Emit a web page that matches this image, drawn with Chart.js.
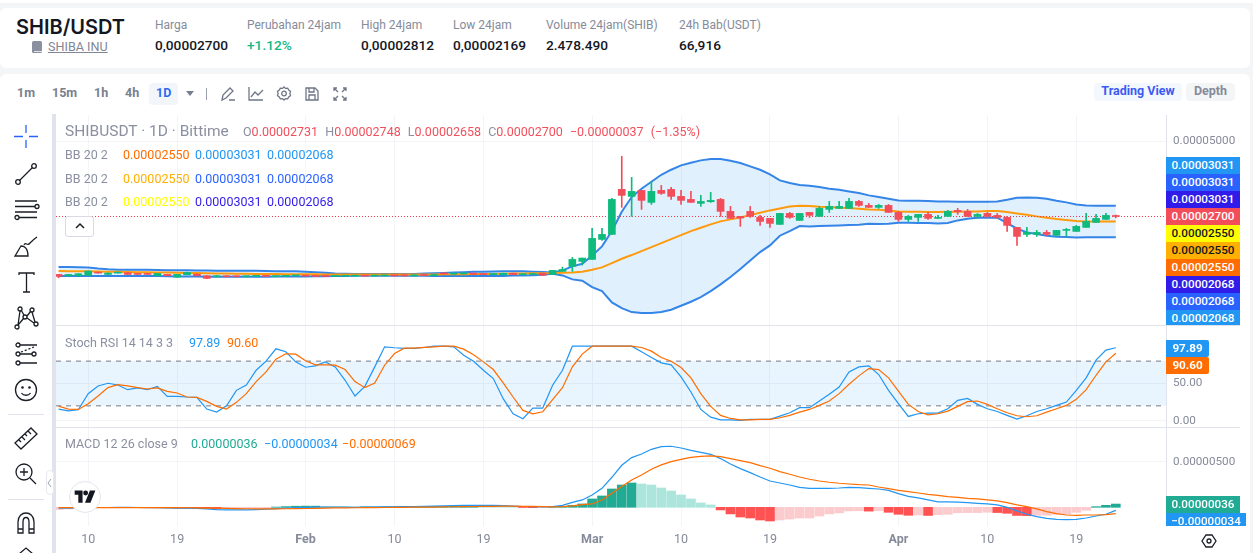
<!DOCTYPE html>
<html><head><meta charset="utf-8">
<script src="https://cdn.jsdelivr.net/npm/chart.js@4/dist/chart.umd.min.js"></script>
<style>
*{box-sizing:border-box}
html,body{margin:0;padding:0;width:1253px;height:553px;overflow:hidden;background:#f3f5f7;font-family:Roboto,sans-serif;color:#131722}
.abs{position:absolute;white-space:nowrap}
.panel{position:absolute;background:#fff}
canvas{position:absolute;left:56px}
.lab{font-size:12px;color:#868b9a;top:17px;line-height:16px}
.val{font-size:13.7px;color:#14171f;top:37px;line-height:16px;font-weight:500}
.tab{top:84px;line-height:17px;font-size:12.5px;font-weight:700;color:#787f8e}
.lg{font-size:12.5px;line-height:16px;color:#8a90a0}
.sep{position:absolute;background:#e0e3eb}
.tags{position:absolute;left:1166px;overflow:hidden}
.tags div{height:17px;line-height:17px;font-size:11.7px;text-align:center;color:#fff;font-weight:500}
svg{position:absolute;overflow:visible}
svg.t{fill:none;stroke:#1b1e26;stroke-width:1.3}
svg.g{fill:none;stroke:#6f7686;stroke-width:1.3}
</style></head><body>
<div class="panel" style="left:0;top:0;width:1253px;height:3px"></div>
<div class="panel" style="left:0;top:8px;width:1250px;height:60px;border-radius:6px"></div>
<div class="panel" style="left:0;top:74px;width:1250px;height:479px;border-radius:6px 6px 0 0"></div>

<div class="abs" style="left:16px;top:15px;font-family:Inter;font-size:20px;line-height:24px;font-weight:600;color:#14171f">SHIB/USDT</div>
<svg style="left:32px;top:41px" width="11" height="13"><rect x="0" y="0" width="10" height="12" rx="1.5" fill="#8a90a0"/><rect x="2" y="10" width="8" height="1" fill="#dfe2e8"/></svg>
<div class="abs" style="left:48px;top:39px;font-size:12.6px;line-height:16px;color:#7f8695;text-decoration:underline">SHIBA INU</div>
<div class="abs lab" style="left:155px">Harga</div><div class="abs val" style="left:155px">0,00002700</div>
<div class="abs lab" style="left:247px">Perubahan 24jam</div><div class="abs val" style="left:247px;color:#12b886">+1.12%</div>
<div class="abs lab" style="left:361px">High 24jam</div><div class="abs val" style="left:361px">0,00002812</div>
<div class="abs lab" style="left:453px">Low 24jam</div><div class="abs val" style="left:453px">0,00002169</div>
<div class="abs lab" style="left:546px">Volume 24jam(SHIB)</div><div class="abs val" style="left:546px">2.478.490</div>
<div class="abs lab" style="left:679px">24h Bab(USDT)</div><div class="abs val" style="left:679px">66,916</div>

<div class="abs tab" style="left:17px">1m</div><div class="abs tab" style="left:52px">15m</div>
<div class="abs tab" style="left:94px">1h</div><div class="abs tab" style="left:125px">4h</div>
<div class="abs" style="left:149px;top:83px;width:29px;height:22px;background:#f2f5fa;border-radius:4px"></div>
<div class="abs tab" style="left:156px;color:#2e6bf0">1D</div>
<svg style="left:185px;top:91px" width="10" height="6"><path d="M1 0H9L5 5Z" fill="#787f8e"/></svg>
<div class="sep" style="left:206px;top:88px;width:1px;height:12px;background:#9aa0ad"></div>
<svg class="g" style="left:220px;top:86px" width="16" height="16"><path d="M2 14 3 9 10 2 13 5 6 12ZM9 14h6"/></svg>
<svg class="g" style="left:248px;top:87px" width="16" height="14"><path d="M1 0V13H15M3 10 7 5 10 8 15 3"/></svg>
<svg class="g" style="left:277px;top:86px" width="15" height="15"><circle cx="7" cy="7.5" r="2.3"/><path d="M7 1l1.5 1.4 2.2-.3 1 2 1.8 1.2-.6 2.2.6 2.2-1.8 1.2-1 2-2.2-.3L7 14l-1.5-1.4-2.2.3-1-2L.5 9.7l.6-2.2-.6-2.2 1.8-1.2 1-2 2.2.3Z"/></svg>
<svg class="g" style="left:305px;top:87px" width="14" height="14"><path d="M1 1H10L13 4V13H1ZM4 1V5H9V1M4 13V8H10V13"/></svg>
<svg class="g" style="left:333px;top:87px" width="14" height="14"><path d="M1 4V1H4M10 1h3V4M13 10v3H10M4 13H1V10M1 1 5 5M13 1 9 5M13 13 9 9M1 13 5 9"/></svg>

<div class="abs" style="left:1094px;top:83px;width:88px;height:18px;background:#f3f7fe;border-radius:4px;text-align:center;font-size:12.5px;line-height:16px;font-weight:700;color:#3b5cf2">Trading View</div>
<div class="abs" style="left:1186px;top:83px;width:49px;height:18px;background:#f3f5f7;border-radius:4px;text-align:center;font-size:12.5px;line-height:16px;font-weight:700;color:#868b9a">Depth</div>

<canvas id="mainChart" width="1194" height="210" style="top:115px"></canvas>
<canvas id="rsiChart" width="1194" height="101" style="top:326px"></canvas>
<canvas id="macdChart" width="1194" height="125" style="top:428px"></canvas>

<div class="sep" style="left:52px;top:114px;width:4px;height:439px"></div>
<div class="sep" style="left:56px;top:325px;width:1184px;height:1px"></div>
<div class="sep" style="left:56px;top:427px;width:1184px;height:1px"></div>

<div class="abs" style="left:65px;top:122px;font-size:15.5px;line-height:18px;color:#8a90a0">SHIBUSDT · 1D · Bittime</div>
<div class="abs lg" style="left:243px;top:124px;word-spacing:4px">O<span style="color:#f0505c">0.00002731</span> H<span style="color:#f0505c">0.00002748</span> L<span style="color:#f0505c">0.00002658</span> C<span style="color:#f0505c">0.00002700 −0.00000037 (−1.35%)</span></div>
<div class="abs lg" style="left:65px;top:147px">BB 20 2</div><div class="abs lg" style="left:123px;top:147px;color:#ff6d00">0.00002550</div><div class="abs lg" style="left:195px;top:147px;color:#2196f3">0.00003031</div><div class="abs lg" style="left:267px;top:147px;color:#2196f3">0.00002068</div>
<div class="abs lg" style="left:65px;top:171px">BB 20 2</div><div class="abs lg" style="left:123px;top:171px;color:#ffb000">0.00002550</div><div class="abs lg" style="left:195px;top:171px;color:#2962ff">0.00003031</div><div class="abs lg" style="left:267px;top:171px;color:#2962ff">0.00002068</div>
<div class="abs lg" style="left:65px;top:194px">BB 20 2</div><div class="abs lg" style="left:123px;top:194px;color:#ffff00">0.00002550</div><div class="abs lg" style="left:195px;top:194px;color:#311be8">0.00003031</div><div class="abs lg" style="left:267px;top:194px;color:#311be8">0.00002068</div>
<div class="abs" style="left:65px;top:216px;width:29px;height:21px;background:#fff;border:1px solid #d8dbe3;border-radius:3px"></div>
<svg style="left:75px;top:223px;fill:none;stroke:#1b1e26;stroke-width:1.5" width="10" height="7"><path d="M1 5 5 1 9 5"/></svg>

<div class="abs lg" style="left:65px;top:335px">Stoch RSI 14 14 3 3</div>
<div class="abs lg" style="left:189px;top:335px;color:#2196f3">97.89</div><div class="abs lg" style="left:227px;top:335px;color:#ff6d00">90.60</div>
<div class="abs lg" style="left:65px;top:436px">MACD 12 26 close 9</div>
<div class="abs lg" style="left:191px;top:436px;color:#22ab94">0.00000036</div><div class="abs lg" style="left:264px;top:436px;color:#2196f3">−0.00000034</div><div class="abs lg" style="left:342px;top:436px;color:#ff6d00">−0.00000069</div>

<div class="tags" style="top:157px;width:74px;height:168px">
<div style="background:#2196f3">0.00003031</div><div style="background:#2962ff">0.00003031</div><div style="background:#311be8">0.00003031</div>
<div style="background:#f34d5a">0.00002700</div><div style="background:#ffff00;color:#131722">0.00002550</div><div style="background:#ffb000;color:#131722">0.00002550</div>
<div style="background:#ff6d00">0.00002550</div><div style="background:#311be8">0.00002068</div><div style="background:#2962ff">0.00002068</div><div style="background:#2196f3">0.00002068</div></div>
<div class="tags" style="top:340px;width:43px;height:34px">
<div style="background:#2196f3;border-radius:0 2px 2px 0;font-weight:700">97.89</div><div style="background:#ff6d00;border-radius:0 2px 2px 0;font-weight:700">90.60</div></div>
<div class="tags" style="top:496px;width:80px;height:30px">
<div style="background:#22ab94;width:74px">0.00000036</div><div style="background:#2196f3">−0.00000034</div></div>

<div class="abs" style="left:69px;top:481px;width:32px;height:32px;border-radius:50%;background:#fff;border:1px solid #e3e5ec"></div>
<svg style="left:74px;top:490px" width="22" height="14" viewBox="0 0 36 23"><path fill="#131722" d="M14 1H1V8H7V21H14ZM27 21H18L26 1H35ZM19 9a4 4 0 1 0 0-8 4 4 0 0 0 0 8Z"/></svg>

<svg style="left:14px;top:125px;fill:none;stroke:#2962ff;stroke-width:1.3" width="24" height="24"><path d="M12 0V8M12 15V23M0 11.5H9M15 11.5H24"/></svg>
<svg class="t" style="left:14px;top:162px" width="24" height="24"><path d="M5.5 18.5 18.5 5.5"/><circle cx="4" cy="20" r="2.3"/><circle cx="20" cy="4" r="2.3"/></svg>
<svg class="t" style="left:14px;top:199px" width="24" height="24"><path d="M1 2H23M1 7.5H21M1 13H23M5 18.5H23"/><circle cx="23" cy="7.5" r="2"/><circle cx="3" cy="18.5" r="2"/></svg>
<svg class="t" style="left:14px;top:235px" width="24" height="24"><path d="M1 21H14C14 13 10 11 7 11 5 14 3 18 1 21ZM10 10C12 6 13 12 16 8 18 6 20 4 23 2"/></svg>
<svg class="t" style="left:14px;top:270px" width="24" height="24"><path d="M5 5V3H20V5M12.500 3V22M9 22H16"/></svg>
<svg class="t" style="left:14px;top:306px" width="24" height="24"><circle cx="6" cy="3" r="2"/><circle cx="18" cy="4" r="2"/><circle cx="11" cy="11" r="2"/><circle cx="3" cy="21" r="2"/><circle cx="22" cy="18" r="2"/><path d="M6 5 4 19M7 4 10 9M17 5 13 10M18 6 21 16M13 12 20 17M10 12 4 19"/></svg>
<svg class="t" style="left:14px;top:342px" width="24" height="24"><circle cx="4" cy="3" r="2"/><circle cx="20" cy="12" r="2"/><circle cx="4" cy="12" r="2"/><circle cx="4" cy="21" r="2"/><path d="M6 3H23M6 12H18M6 21H23"/><path d="M7 10 20 5" stroke-dasharray="2 2"/></svg>
<svg class="t" style="left:14px;top:378px" width="24" height="24"><circle cx="12" cy="12" r="10.500"/><circle cx="8.500" cy="9.500" r=".7"/><circle cx="15.500" cy="9.500" r=".7"/><path d="M7.500 15C9.500 18 14.500 18 16.500 15"/></svg>
<div class="sep" style="left:8px;top:414px;width:36px;height:1px"></div>
<svg class="t" style="left:14px;top:426px" width="24" height="24"><path d="M1 17 17 2 23 8 7 23ZM5 14 7 16M8 11 11 14M11 8 13 10M14 5 17 8"/></svg>
<svg class="t" style="left:14px;top:462px" width="24" height="24"><circle cx="10" cy="10" r="8"/><path d="M6 10H14M10 6V14M16 16 22 22"/></svg>
<div class="abs" style="left:46px;top:470px;width:8px;height:25px;background:#fff;border:1px solid #e6e8ef;border-radius:4px"></div>
<svg style="left:48px;top:479px;fill:none;stroke:#9ca3af;stroke-width:1" width="4" height="8"><path d="M3 0 0 4 3 8"/></svg>
<div class="sep" style="left:8px;top:499px;width:36px;height:1px"></div>
<svg class="t" style="left:14px;top:511px" width="24" height="24"><path d="M4 22V11C4 -1 20 -1 20 11V22H15V11C15 5 9 5 9 11V22ZM4 18H9M15 18H20"/></svg>
<svg class="t" style="left:18px;top:547px" width="16" height="8"><path d="M1 7 8 1 15 7"/></svg>
<svg style="left:1201px;top:533px;fill:none;stroke:#1b1e26;stroke-width:1.3" width="16" height="16"><path d="M5 2H11L15 8 11 14H5L1 8Z"/><circle cx="8" cy="8" r="2"/></svg>

<script>
// Day index 0 = 7 Jan; all prices are in units of 1e-8 USDT.
const tickDays   = [3,12,25,34,43,54,63,72,85,94,103];
const tickLabels = ['10','19','Feb','10','19','Mar','10','19','Apr','10','19'];
const priceLast = 2700;

const opens  = [930,889,889,899,991,930,971,981,950,950,889,930,848,920,940,889,859,889,879,860,870,900,860,870,885,900,890,885,870,875,878,895,880,885,905,910,885,925,895,975,940,945,970,950,925,920,965,920,925,965,931,1022,1175,1328,1389,2000,2153,3529,3315,3498,3132,3498,3529,3315,3223,3101,3152,3223,2857,2704,2857,2673,2643,2459,2795,2581,2826,2704,2918,2948,2948,3162,3040,2979,3040,2826,2612,2673,2765,2643,2704,2887,2857,2704,2795,2734,2673,2367,2153,2153,2215,2123,2276,2245,2367,2520,2612,2731];
const closes = [869,930,950,1032,971,971,991,930,930,930,960,889,930,991,889,808,889,858,859,880,890,870,885,890,895,880,870,870,885,890,890,880,900,905,885,885,915,900,925,945,965,975,935,925,955,965,925,950,955,905,1053,1083,1389,1430,2031,2153,3223,3346,3468,3193,3468,3407,3315,3193,3132,3162,3193,2857,2643,2653,2704,2551,2490,2795,2673,2795,2734,2948,3009,3009,3162,3040,2979,3040,2826,2612,2704,2765,2643,2673,2857,2846,2704,2765,2704,2673,2429,2092,2215,2215,2153,2276,2296,2398,2551,2643,2734,2700];
const highs  = [930,935,955,1040,1000,975,1000,990,955,955,965,935,935,1000,945,895,895,895,885,885,895,905,890,895,900,905,895,890,890,895,895,900,905,910,910,915,920,930,930,980,970,980,975,955,960,970,970,955,960,970,1053,1155,1450,1430,2337,2337,3254,4538,3896,3498,3774,3651,3590,3498,3468,3346,3437,3254,3009,2704,3009,2734,2643,2795,2826,2795,2826,3009,3162,3162,3254,3193,3101,3070,3070,2857,2734,2765,2826,2734,2887,2948,2918,2795,2826,2795,2704,2367,2367,2276,2276,2276,2337,2429,2795,2765,2795,2748];
const lows   = [828,885,885,895,965,925,965,925,925,925,885,885,845,915,885,800,855,855,855,855,865,865,855,865,880,875,865,865,865,870,875,875,875,880,880,880,880,895,890,940,935,940,930,920,920,915,920,915,920,900,931,1022,1022,1216,1389,1970,2153,2979,2704,2918,3070,3376,3223,3070,3132,3009,3132,2704,2643,2398,2673,2429,2367,2459,2643,2581,2673,2704,2826,2948,2948,3009,2979,2948,2826,2551,2551,2551,2612,2643,2704,2765,2704,2643,2673,2643,2245,1817,2092,2092,2123,2123,2092,2245,2367,2520,2612,2658];

const bbUpper = [1154,1154,1150,1145,1110,1085,1075,1070,1070,1070,1065,1060,1060,1055,1050,1050,1045,1045,1040,1040,1040,1035,1030,1030,1025,1015,1000,980,960,950,945,940,940,940,940,940,945,955,965,975,990,1000,1010,1015,1020,1025,1030,1030,1015,1005,992,1053,1175,1257,1511,1787,2255,2846,3295,3549,3763,3977,4130,4263,4344,4416,4456,4456,4405,4334,4232,4130,3988,3804,3723,3662,3641,3600,3549,3519,3468,3417,3346,3295,3244,3193,3183,3183,3172,3162,3162,3152,3152,3152,3152,3162,3213,3274,3284,3274,3244,3183,3132,3070,3040,3030,3030,3031];
const bbLower = [880,880,880,880,880,880,880,880,880,880,880,875,870,868,865,862,860,860,860,860,860,862,865,868,870,870,872,875,880,885,890,890,890,890,890,890,890,888,885,885,885,885,885,885,885,885,900,900,905,920,951,900,778,737,543,421,75,-99,-221,-251,-251,-221,-150,-27,95,238,421,625,849,1094,1359,1613,1817,2113,2255,2408,2398,2408,2418,2429,2439,2449,2480,2469,2480,2510,2510,2500,2500,2490,2500,2581,2632,2663,2673,2663,2500,2327,2215,2164,2113,2082,2072,2062,2066,2068,2068,2068];
const bbMiddle= [1032,1030,1028,1025,1020,1015,1010,1005,1000,995,990,985,980,975,970,965,960,955,950,948,945,942,940,938,936,935,932,930,928,926,925,925,925,925,925,925,926,928,930,932,935,938,940,943,946,950,955,960,963,967,971,982,992,1012,1073,1145,1277,1410,1522,1644,1766,1888,2011,2133,2255,2357,2459,2551,2612,2673,2744,2816,2887,2948,3009,3030,3020,3000,2989,2969,2958,2938,2918,2907,2887,2857,2846,2846,2836,2836,2846,2846,2857,2857,2867,2867,2836,2795,2755,2704,2663,2622,2592,2561,2551,2551,2550,2550];

const stochK = [15.7,13.4,14.8,36.3,46.7,50.3,48,41.7,44,41.7,46.2,32.8,32.8,31.9,31.4,15.7,11.6,20.2,40.8,48,67.8,79.9,96.5,92.5,79,71.8,73.6,79,72.3,54.3,33.2,46.2,72.3,99.2,97.9,97,97,98.3,100,100,99.2,88,79.9,67.8,56.6,29.6,9.4,2.7,17,17,47.6,67.8,100,100,100,100,100,100,100,92.5,84.9,77.7,75,58.8,38.6,15.2,4.9,1.3,1.3,0.4,1.8,1.8,1.8,6.3,10.7,17.5,17.5,26.5,35.5,45.3,65.5,72.3,73.6,62,40.8,22.9,5.8,9.4,10.3,10.3,16.1,27.4,30,22,16.1,12.5,7.2,2.2,6.7,12.5,16.1,20.6,25.1,40.8,57.5,81.3,94.7,97.89];
const stochD = [19.7,15.7,15.2,22.9,33.2,44.4,48.5,46.7,44.4,42.6,44,39.5,37.2,31.9,31.4,26,19.3,15.7,24.7,36.3,52.5,65.5,82.6,89.8,89.3,80.4,75,75,74.5,68.7,52.5,44.4,50.7,74.5,90.2,97.4,97.4,98.3,99.2,100,100,96.1,88.5,79,68.7,50.7,31.9,13.9,9.4,12.1,28.3,44.4,72.3,89.4,100,100,100,100,100,98.3,93.4,84.9,79.9,71.4,57.5,36.4,19.3,7.2,3.1,1.3,1.3,1.8,1.8,4,7.2,11.6,15.2,20.6,26.5,36.4,48.9,60.2,70,68.7,57.5,39.9,22,12.5,8,9.4,13,19.3,25.6,26.5,22,16.1,10.7,6.7,5.4,6.7,11.6,16.1,20.6,28.7,41.7,61,79,90.6];
const stochUpper = 80, stochLower = 20;

const macdHist = [-25,-18,-12,-8,-5,-5,-5,-3,-4,-4,-6,-7,-9,-10,-12,-15,-18,-16,-15,-12,-8,-4,3,8,12,13,13,11,8,7,5,5,5,6,7,7,7,8,10,11,13,13,13,12,10,7,2,-2,-4,-3,7,11,22,37,92,125,202,246,268,257,246,213,180,136,92,48,26,-29,-73,-107,-118,-140,-151,-140,-129,-118,-118,-96,-73,-62,-40,-38,-42,-38,-55,-77,-88,-85,-90,-81,-77,-60,-59,-58,-54,-58,-66,-90,-92,-88,-88,-77,-77,-55,-33,7,22,36];
const macdLine = [-8,-8,-6,-3,-2,-2,-1,-1,-2,-3,-4,-6,-8,-10,-13,-18,-25,-28,-29,-28,-25,-20,-14,-8,-3,0,2,2,1,1,0,1,2,4,6,7,8,10,13,16,19,21,22,22,21,19,14,9,6,5,7,22,55,81,136,209,331,463,548,588,639,669,673,654,628,606,584,537,478,426,382,334,290,268,246,220,209,209,209,213,220,217,209,202,187,151,121,103,81,59,59,57,51,44,37,26,0,-40,-77,-103,-121,-132,-136,-132,-118,-96,-77,-34];
const macdSignal = [-3,-4,-4,-4,-4,-4,-3,-3,-3,-3,-3,-4,-4,-5,-6,-8,-10,-12,-14,-16,-17,-17,-17,-16,-15,-13,-11,-9,-7,-6,-5,-4,-3,-2,-1,0,1,2,3,5,6,8,9,10,11,12,12,11,10,8,5,7,15,29,37,81,154,228,301,356,419,467,503,529,551,562,566,559,537,514,492,459,430,393,364,334,309,290,276,265,257,250,246,224,206,187,173,158,143,132,118,110,99,92,81,70,51,26,7,-18,-48,-70,-85,-88,-85,-85,-81,-69];

const pts = a => a.map((y,x)=>({x,y}));
const X_MIN=-0.259, X_MAX=112.08;
const GRID='#f3f4f7', AXIS='#e0e3eb', TXT='#868b9a';
const UP='#0ebb7c', DOWN='#f34d5a';
const fmtPrice = v => (v*1e-8).toFixed(8);

function opts(yMin,yMax,yTicks,yLab,showX){
  return {responsive:false,animation:false,maintainAspectRatio:false,devicePixelRatio:1,
    layout:{padding:0},
    plugins:{legend:{display:false},tooltip:{enabled:false}},
    scales:{
      x:{type:'linear',offset:false,min:X_MIN,max:X_MAX,
        afterBuildTicks:s=>{s.ticks=tickDays.map(value=>({value}));},
        afterFit:s=>{s.paddingLeft=s.paddingRight=0;s.height=showX?27:0;},
        grid:{color:GRID,drawTicks:false,offset:false},
        border:{display:false},
        ticks:{display:showX,autoSkip:false,maxRotation:0,padding:6,color:TXT,
          font:c=>({family:'Roboto',size:12.5,weight:c.tick&&isNaN(+tickLabels[tickDays.indexOf(c.tick.value)])?'bold':'normal'}),
          callback:v=>tickLabels[tickDays.indexOf(v)]}},
      y:{type:'linear',position:'right',min:yMin,max:yMax,
        afterBuildTicks:s=>{s.ticks=yTicks.map(value=>({value}));},
        afterFit:s=>{s.width=84;s.paddingTop=s.paddingBottom=0;},
        grid:{color:GRID,drawTicks:false},
        border:{display:true,color:AXIS,width:1},
        ticks:{autoSkip:false,padding:7,color:TXT,font:{family:'Roboto',size:11.7},callback:yLab}}
    }};
}
const line=(data,color,width,extra)=>Object.assign({type:'line',data:pts(data),borderColor:color,borderWidth:width,pointRadius:0,tension:0,fill:false},extra||{});
const flat=(y,extra)=>Object.assign({type:'line',data:[{x:X_MIN,y},{x:X_MAX,y}],pointRadius:0,fill:false},extra);

new Chart(document.getElementById('mainChart'),{type:'bar',
  data:{datasets:[
    line(bbUpper,'#3585e8',2,{order:10,fill:'+1',backgroundColor:'rgba(33,150,243,0.14)'}),
    line(bbLower,'#3585e8',2,{order:9}),
    line(bbMiddle,'#ff9a0c',2,{order:8}),
    flat(priceLast,{order:7,borderColor:'#f23645',borderWidth:1,borderDash:[1,2]}),
    {type:'bar',order:3,grouped:false,barThickness:1,data:highs.map((h,x)=>({x,y:[lows[x],h]})),
      backgroundColor:c=>closes[c.dataIndex]>=opens[c.dataIndex]?UP:DOWN},
    {type:'bar',order:2,grouped:false,barThickness:7,minBarLength:1,data:opens.map((o,x)=>({x,y:[o,closes[x]]})),
      backgroundColor:c=>closes[c.dataIndex]>=opens[c.dataIndex]?UP:DOWN}
  ]},
  options:opts(-616,5803,[0,1000,2000,3000,4000,5000],v=>v===5000?fmtPrice(v):null,false)});

new Chart(document.getElementById('rsiChart'),{type:'line',
  data:{datasets:[
    flat(stochUpper,{order:10,borderColor:'#787b86',borderWidth:1,borderDash:[5,5],fill:'+1',backgroundColor:'rgba(33,150,243,0.1)'}),
    flat(stochLower,{order:9,borderColor:'#787b86',borderWidth:1,borderDash:[5,5]}),
    line(stochK,'#2196f3',1.2,{order:3}),
    line(stochD,'#ff6d00',1.2,{order:2})
  ]},
  options:opts(-8.36,127.1,[0,50,100],v=>v===100?null:v.toFixed(2),false)});

new Chart(document.getElementById('macdChart'),{type:'bar',
  data:{datasets:[
    {type:'bar',order:5,grouped:false,barThickness:9,data:macdHist.map((y,x)=>({x,y})),
      backgroundColor:c=>{const v=macdHist[c.dataIndex],p=macdHist[c.dataIndex-1];
        return v>=0?(v>=p||p===undefined?'#22ab94':'#ace5dc'):(v<p?'#ff5252':'#fccbcd');}},
    line(macdLine,'#2196f3',1.2,{order:3}),
    line(macdSignal,'#ff6d00',1.2,{order:2})
  ]},
  options:opts(-206,874,[0,500],v=>v===500?fmtPrice(v):null,true)});
</script>
</body></html>
